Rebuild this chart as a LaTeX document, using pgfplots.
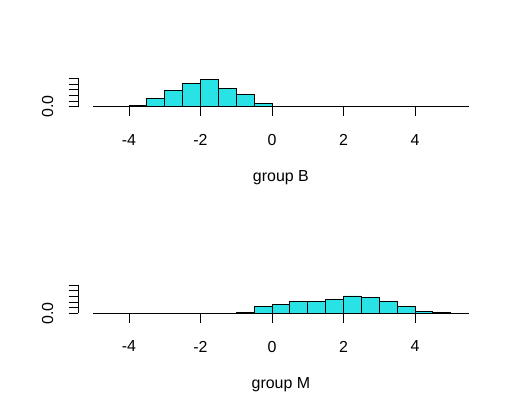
\documentclass[border=0pt]{standalone}
\usepackage{pgfplots}
\pgfplotsset{compat=1.18}
\usepackage{fontspec}
\setmainfont{Liberation Sans}
\definecolor{rcyan}{HTML}{28E2E5}

% one panel of the histogram pair
\pgfplotsset{
  histpanel/.style={
    scale only axis,
    width=405.4bp, height=28.4bp,
    xmin=-5.42, xmax=5.92,
    ymin=0, ymax=0.5,
    separate axis lines,
    axis x line*=bottom,
    axis y line*=left,
    x axis line style={draw=none},
    y axis line style={-, line width=0.6bp},
    xtick={-4,-2,0,2,4},
    xticklabels={-4,-2,0,2,4},
    ytick={0,0.1,0.2,0.3,0.4,0.5},
    yticklabels={0.0,{},{},{},{},{}},
    tick align=outside,
    major tick length=9.5bp,
    tick style={line width=0.6bp, black},
    ticklabel style={font=\fontsize{16}{19}\selectfont},
    xticklabel style={yshift=-14.7bp},
    yticklabel style={rotate=90, anchor=south, yshift=12bp},
    label style={font=\fontsize{16}{19}\selectfont},
    xlabel style={at={(axis description cs:0.5,0)}, anchor=center, yshift=-71bp},
    clip=false,
  },
  histbars/.style={ybar interval, fill=rcyan, draw=black, line width=0.75bp},
}

\begin{document}
\begin{tikzpicture}
\path[use as bounding box] (0bp,0bp) rectangle (524bp,413bp);

\begin{axis}[histpanel, at={(78.2bp,306.3bp)}, anchor=south west, xlabel={group B}]
\addplot[histbars] coordinates {
(-5,0.005)(-4.5,0.005)(-4,0.02)(-3.5,0.15)(-3,0.28)(-2.5,0.405)(-2,0.48)
(-1.5,0.32)(-1,0.215)(-0.5,0.055)(0,0.006)(0.5,0.006)(1,0.002)(1.5,0.002)
(2,0.002)(2.5,0.002)(3,0.002)(3.5,0.002)(4,0.002)(4.5,0.002)(5,0.002)(5.5,0.002)
};
\end{axis}

\begin{axis}[histpanel, at={(78.2bp,99.7bp)}, anchor=south west, xlabel={group M}]
\addplot[histbars] coordinates {
(-5,0.005)(-4.5,0.005)(-4,0.005)(-3.5,0.005)(-3,0.005)(-2.5,0.005)(-2,0.005)
(-1.5,0.005)(-1,0.018)(-0.5,0.12)(0,0.16)(0.5,0.215)(1,0.215)(1.5,0.245)
(2,0.305)(2.5,0.28)(3,0.215)(3.5,0.12)(4,0.036)(4.5,0.018)(5,0.005)(5.5,0.005)
};
\end{axis}
\end{tikzpicture}
\end{document}
